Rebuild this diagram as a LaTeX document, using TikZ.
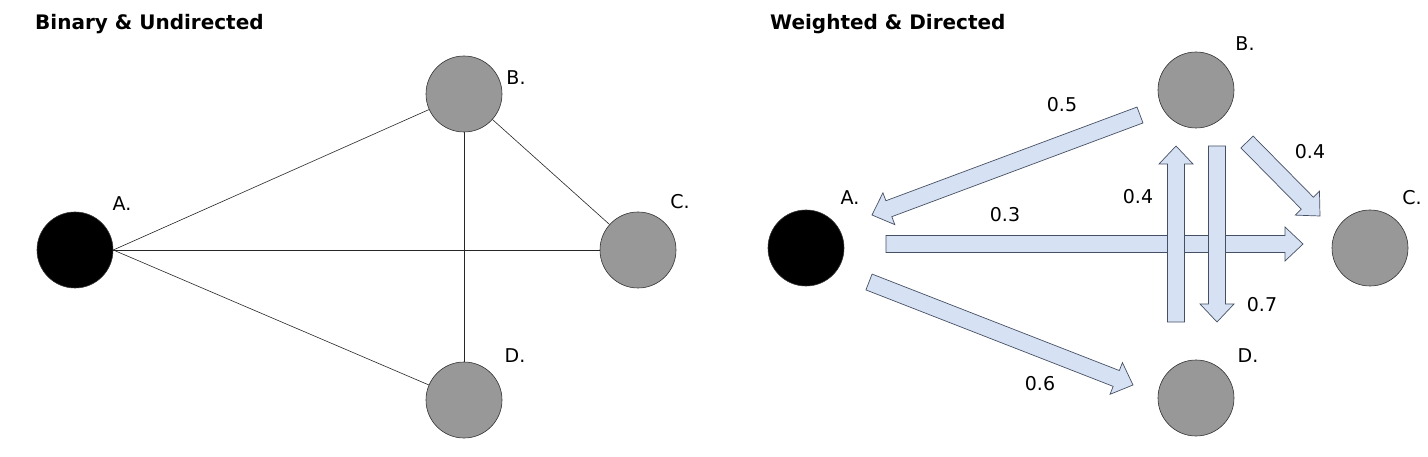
\documentclass[tikz,border=0pt]{standalone}
\usepackage{fontspec}
\setmainfont{DejaVu Sans}
\usetikzlibrary{calc}
\definecolor{arrfill}{RGB}{214,226,243}
\definecolor{arrline}{RGB}{70,80,100}
\definecolor{ngray}{RGB}{152,152,152}
\tikzset{
 nd/.style={circle,draw=black!80,line width=0.6pt,minimum size=76pt,inner sep=0pt},
 lbl/.style={font=\fontsize{19}{19}\selectfont,inner sep=0pt},
 ttl/.style={font=\bfseries\fontsize{20}{20}\selectfont,inner sep=0pt,anchor=west},
 edge/.style={draw=black!85,line width=0.6pt},
 barr/.style={fill=arrfill,draw=arrline,line width=0.7pt}
}
\newcommand{\blockarr}[2]{%
 \coordinate (nk) at ($(#2)!18pt!(#1)$);
 \draw[barr] ($(#1)!8.5pt!90:(#2)$) -- ($(nk)!8.5pt!90:(#2)$) -- ($(nk)!17pt!90:(#2)$) -- (#2)
  -- ($(nk)!17pt!-90:(#2)$) -- ($(nk)!8.5pt!-90:(#2)$) -- ($(#1)!8.5pt!-90:(#2)$) -- cycle;}
\begin{document}
\begin{tikzpicture}[x=1pt,y=-1pt]
\useasboundingbox (0,0) rectangle (1428,457);
% left
\node[ttl] at (35,24) {Binary \& Undirected};
\node[nd,fill=black] (lA) at (75,250) {};
\node[nd,fill=ngray] (lB) at (464,94) {};
\node[nd,fill=ngray] (lC) at (638,250) {};
\node[nd,fill=ngray] (lD) at (464,400) {};
\node[lbl] at (122,204) {A.};
\node[lbl] at (516,78) {B.};
\node[lbl] at (680,202) {C.};
\node[lbl] at (515,356) {D.};
\draw[edge] (lA.east) -- (lB);
\draw[edge] (lA.east) -- (lC);
\draw[edge] (lA.east) -- (lD);
\draw[edge] (lB) -- (lC);
\draw[edge] (lB) -- (lD);
% right
\node[ttl] at (770,24) {Weighted \& Directed};
\node[nd,fill=black] (rA) at (806,248) {};
\node[nd,fill=ngray] (rB) at (1196,90) {};
\node[nd,fill=ngray] (rC) at (1370,248) {};
\node[nd,fill=ngray] (rD) at (1196,398) {};
\node[lbl] at (850,198) {A.};
\node[lbl] at (1245,44) {B.};
\node[lbl] at (1412,198) {C.};
\node[lbl] at (1248,356) {D.};
\coordinate (t1) at (1140,115); \coordinate (h1) at (872,215);
\coordinate (t2) at (886,244); \coordinate (h2) at (1303,244);
\coordinate (t3) at (1176,322); \coordinate (h3) at (1176,146);
\coordinate (t4) at (1217,146); \coordinate (h4) at (1217,322);
\coordinate (t5) at (1247,142); \coordinate (h5) at (1320,216);
\coordinate (t6) at (869,282); \coordinate (h6) at (1133,385);
\blockarr{t1}{h1}
\blockarr{t2}{h2}
\blockarr{t3}{h3}
\blockarr{t4}{h4}
\blockarr{t5}{h5}
\blockarr{t6}{h6}
\node[lbl] at (1062,105) {0.5};
\node[lbl] at (1005,215) {0.3};
\node[lbl] at (1138,197) {0.4};
\node[lbl] at (1262,305) {0.7};
\node[lbl] at (1310,152) {0.4};
\node[lbl] at (1040,384) {0.6};
\end{tikzpicture}
\end{document}
